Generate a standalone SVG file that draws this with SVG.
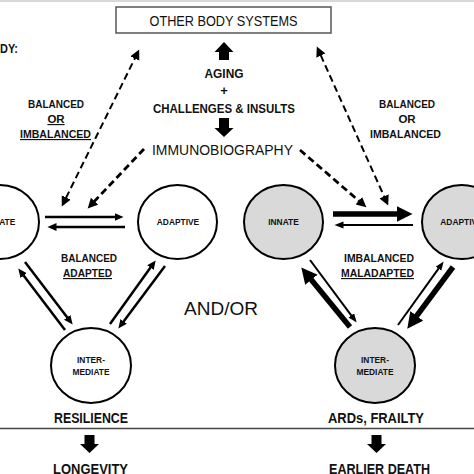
<svg xmlns="http://www.w3.org/2000/svg" width="474" height="474" viewBox="0 0 474 474">
<style>
text{font-family:"Liberation Sans",Arial,sans-serif;fill:#111;text-anchor:middle}
.b{font-weight:bold}
.lab{font-size:11.5px;font-weight:bold}
.node{font-size:8.4px;font-weight:bold}
.big{font-size:14px;font-weight:bold}
.c{stroke:#000;stroke-width:2}
.g{fill:#d9d9d9}
.w{fill:#fff}
.thin{stroke:#000;stroke-width:2.5;fill:none}
.thin2{stroke:#000;stroke-width:2;fill:none}
.thick{stroke:#000;stroke-width:5.5;fill:none}
.dash{stroke:#000;stroke-width:2;fill:none;stroke-dasharray:7 4}
.dash2{stroke:#000;stroke-width:2.8;fill:none;stroke-dasharray:7 4}
</style>
<defs>
<marker id="ah" markerUnits="userSpaceOnUse" markerWidth="10" markerHeight="10" refX="0.5" refY="4" orient="auto-start-reverse"><path d="M0,0 L9,4 L0,8 z" fill="#000"/></marker>
<marker id="ah2" markerUnits="userSpaceOnUse" markerWidth="10" markerHeight="10" refX="0.5" refY="3.5" orient="auto-start-reverse"><path d="M0,0 L9,3.5 L0,7 z" fill="#000"/></marker>
<marker id="ahT" markerUnits="userSpaceOnUse" markerWidth="18" markerHeight="18" refX="0.5" refY="8" orient="auto"><path d="M0,0 L16,8 L0,16 z" fill="#000"/></marker>
<marker id="ahD" markerUnits="userSpaceOnUse" markerWidth="11" markerHeight="11" refX="0.5" refY="5" orient="auto-start-reverse"><path d="M0,0 L10,5 L0,10 z" fill="#000"/></marker>
</defs>
<rect x="0" y="0" width="474" height="474" fill="#fff"/>
<rect x="0" y="0" width="474" height="2" fill="#d8d8d8"/>

<g id="other-body-systems">
<rect x="116" y="7" width="215" height="26" fill="#fff" stroke="#555" stroke-width="1.5"/>
<text x="223.5" y="25.5" font-size="14.5" textLength="148" lengthAdjust="spacingAndGlyphs">OTHER BODY SYSTEMS</text>
</g>

<g id="center-labels">
<text x="9" y="53" class="b" font-size="13.5" textLength="18" lengthAdjust="spacingAndGlyphs">DY:</text>
<polygon points="224,42 233.5,52 229,52 229,60 219,60 219,52 214.5,52" fill="#000"/>
<text x="224" y="78" class="b" font-size="13" textLength="39" lengthAdjust="spacingAndGlyphs">AGING</text>
<text x="224" y="95" class="b" font-size="13">+</text>
<text x="224" y="113" class="b" font-size="13" textLength="142" lengthAdjust="spacingAndGlyphs">CHALLENGES &amp; INSULTS</text>
<polygon points="219,118 229,118 229,128 233.5,128 224,137 214.5,128 219,128" fill="#000"/>
<text x="222.5" y="155" font-size="15" textLength="141" lengthAdjust="spacingAndGlyphs">IMMUNOBIOGRAPHY</text>
<text x="221" y="315" font-size="18.5" textLength="74" lengthAdjust="spacingAndGlyphs">AND/OR</text>
</g>

<g id="left-labels">
<text x="56" y="108" class="lab" textLength="56" lengthAdjust="spacingAndGlyphs">BALANCED</text>
<text x="56" y="123" class="lab" text-decoration="underline">OR</text>
<text x="55.5" y="138" class="lab" text-decoration="underline" textLength="71" lengthAdjust="spacingAndGlyphs">IMBALANCED</text>
<text x="89" y="262" class="lab" textLength="56" lengthAdjust="spacingAndGlyphs">BALANCED</text>
<text x="87.5" y="277" class="lab" text-decoration="underline" textLength="49" lengthAdjust="spacingAndGlyphs">ADAPTED</text>
</g>

<g id="right-labels">
<text x="407" y="108" class="lab" textLength="56" lengthAdjust="spacingAndGlyphs">BALANCED</text>
<text x="407" y="123" class="lab">OR</text>
<text x="405.5" y="138" class="lab" textLength="71" lengthAdjust="spacingAndGlyphs">IMBALANCED</text>
<text x="379" y="262" class="lab" textLength="70" lengthAdjust="spacingAndGlyphs">IMBALANCED</text>
<text x="377.5" y="277" class="lab" text-decoration="underline" textLength="73" lengthAdjust="spacingAndGlyphs">MALADAPTED</text>
</g>

<g id="left-innate">
<ellipse cx="0" cy="222" rx="39" ry="37" class="c w"/>
<text x="0" y="225" class="node">INNATE</text>
</g>
<g id="left-adaptive">
<ellipse cx="177.5" cy="222" rx="39.5" ry="37" class="c w"/>
<text x="178" y="225" class="node">ADAPTIVE</text>
</g>
<g id="left-intermediate">
<ellipse cx="91" cy="365.5" rx="40" ry="37.5" class="c w"/>
<text x="91" y="363" class="node">INTER-</text>
<text x="91" y="375" class="node">MEDIATE</text>
</g>
<g id="right-innate">
<ellipse cx="283.5" cy="222" rx="39.5" ry="37" class="c g"/>
<text x="283.5" y="225" class="node">INNATE</text>
</g>
<g id="right-adaptive">
<ellipse cx="461.5" cy="222" rx="39.5" ry="37" class="c g"/>
<text x="461.5" y="225" class="node">ADAPTIVE</text>
</g>
<g id="right-intermediate">
<ellipse cx="375" cy="365.5" rx="40" ry="37.5" class="c g"/>
<text x="375" y="363" class="node">INTER-</text>
<text x="375" y="375" class="node">MEDIATE</text>
</g>

<g id="connectors">
<line class="dash" x1="66" y1="197.9" x2="135" y2="58.1" marker-start="url(#ahD)" marker-end="url(#ahD)"/>
<line class="dash2" x1="144" y1="149" x2="94.2" y2="201.5" marker-end="url(#ahD)"/>
<line class="dash2" x1="300" y1="150" x2="359.2" y2="201.1" marker-end="url(#ahD)"/>
<line class="dash" x1="320.7" y1="55.2" x2="384.3" y2="196.8" marker-start="url(#ahD)" marker-end="url(#ahD)"/>

<line class="thin" x1="45" y1="217" x2="115" y2="217" marker-end="url(#ah)"/>
<line class="thin" x1="125" y1="227" x2="56" y2="227" marker-end="url(#ah)"/>
<line class="thin" x1="65" y1="330" x2="23.4" y2="275.2" marker-end="url(#ah)"/>
<line class="thin" x1="25" y1="262" x2="67.5" y2="317.8" marker-end="url(#ah)"/>
<line class="thin" x1="110" y1="324" x2="150.7" y2="267.3" marker-end="url(#ah)"/>
<line class="thin" x1="165" y1="266" x2="123.4" y2="321.8" marker-end="url(#ah)"/>

<line class="thick" x1="333" y1="214" x2="397" y2="214" marker-end="url(#ahT)"/>
<line class="thin2" x1="413" y1="225" x2="343" y2="225" marker-end="url(#ah2)"/>
<line class="thick" x1="350" y1="327" x2="311.1" y2="279.4" marker-end="url(#ahT)"/>
<line class="thin2" x1="310" y1="260" x2="351.6" y2="315.8" marker-end="url(#ah2)"/>
<line class="thin2" x1="398" y1="325" x2="438.7" y2="268.3" marker-end="url(#ah2)"/>
<line class="thick" x1="453" y1="267" x2="416.5" y2="316.2" marker-end="url(#ahT)"/>
</g>

<g id="outcomes">
<text x="91" y="423" class="big" textLength="74" lengthAdjust="spacingAndGlyphs">RESILIENCE</text>
<text x="376" y="422.5" class="big" textLength="96" lengthAdjust="spacingAndGlyphs">ARDs, FRAILTY</text>
<line x1="0" y1="428.5" x2="474" y2="428.5" stroke="#444" stroke-width="1.5"/>
<polygon points="84.5,435 94.5,435 94.5,444 99,444 89.5,453 80,444 84.5,444" fill="#000"/>
<polygon points="371.5,435 381.5,435 381.5,444 386,444 376.5,453 367,444 371.5,444" fill="#000"/>
<text x="90.5" y="474" class="big" textLength="75" lengthAdjust="spacingAndGlyphs">LONGEVITY</text>
<text x="379.5" y="474" class="big" textLength="101" lengthAdjust="spacingAndGlyphs">EARLIER DEATH</text>
</g>
</svg>
